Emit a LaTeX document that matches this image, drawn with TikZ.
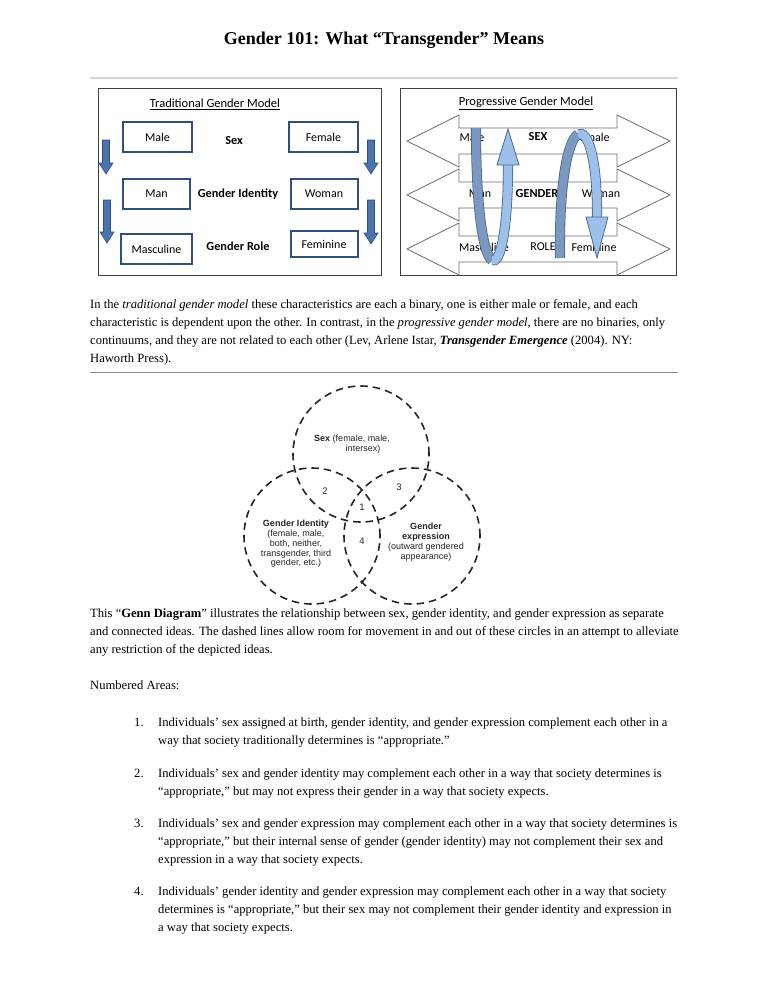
\documentclass[tikz,border=0pt]{standalone}
\usepackage{fontspec}
\setmainfont{Liberation Serif}
\newfontfamily\calfont{Carlito}
\newfontfamily\arialfont{Liberation Sans}
\definecolor{navy}{HTML}{2E4F7F}
\definecolor{arrowblue}{HTML}{4A74AE}
\definecolor{arrowedge}{HTML}{2F4F7F}
\definecolor{ribdark}{HTML}{7B98BE}
\definecolor{riblight}{HTML}{9CC0E8}
\definecolor{ribedge}{HTML}{4A6890}
\definecolor{rulegray}{HTML}{D4D4D4}
\definecolor{blockedge}{HTML}{6E6E6E}
\newcommand\dnarr[3]{\filldraw[fill=arrowblue,draw=arrowedge,line width=0.6] ({#1-3.5},#2) -- ({#1+3.5},#2) -- ({#1+3.5},{#3-11}) -- ({#1+7},{#3-11}) -- (#1,#3) -- ({#1-7},{#3-11}) -- ({#1-3.5},{#3-11}) -- cycle;}
\newcommand\dblarr[1]{\filldraw[fill=white,draw=blockedge,line width=0.8] (407,#1) -- (459,{#1-26}) -- (459,{#1-13}) -- (617,{#1-13}) -- (617,{#1-26}) -- (670,#1) -- (617,{#1+26}) -- (617,{#1+13}) -- (459,{#1+13}) -- (459,{#1+26}) -- cycle;}
\begin{document}
\begin{tikzpicture}[x=1pt,y=-1pt,
  body/.style={font=\fontsize{12.6}{15}\selectfont, inner sep=0pt, anchor=base west, text=black},
  tbox/.style={draw=navy, line width=2, minimum width=69, minimum height=30, inner sep=0pt, font=\calfont\fontsize{12}{14}\selectfont},
  tlab/.style={font=\calfont\bfseries\fontsize{12.3}{14}\selectfont, inner sep=0pt},
  plab/.style={font=\calfont\fontsize{12}{14}\selectfont, inner sep=0pt},
  ttl/.style={font=\calfont\fontsize{12.5}{14}\selectfont, inner sep=0pt},
  venn/.style={draw=black!85, line width=1.6, dash pattern=on 7.5pt off 5pt, circle, minimum size=136, inner sep=0pt},
  vtxt/.style={font=\arialfont\fontsize{9}{9.8}\selectfont, text=black!85, inner sep=0pt},
  rib/.style={draw=ribedge, line width=0.8, double distance=8.5}]
\useasboundingbox (0,0) rectangle (768,994);
\fill[white] (0,0) rectangle (768,994);
% title
\node[font=\bfseries\fontsize{18}{20}\selectfont, inner sep=0pt] (title) at (384,40) {Gender 101: What “Transgender” Means};
\draw[rulegray, line width=1.5] (90,78) -- (678,78);
% traditional model
\draw[black!75, line width=1] (98,88) rectangle (381,275);
\node[ttl] (ttitle) at (215,104) {\underline{Traditional Gender Model}};
\node[tbox] (male) at (157.5,137) {Male};
\node[tbox] (female) at (323.5,137) {Female};
\node[tbox, minimum width=67] (man) at (156.5,194) {Man};
\node[tbox, minimum width=67] (woman) at (324,194) {Woman};
\node[tbox, minimum width=71] (masc) at (156.5,249) {Masculine};
\node[tbox, minimum width=67, minimum height=26] (fem) at (324,244) {Feminine};
\node[tlab] (sexl) at (234,141) {Sex};
\node[tlab] (gidl) at (238,194) {Gender Identity};
\node[tlab] (grl) at (238,246) {Gender Role};
\dnarr{106}{140}{174}
\dnarr{107}{200}{243}
\dnarr{371}{140}{174}
\dnarr{371}{200}{244}
% progressive model
\draw[black!75, line width=1] (400,88) rectangle (676,275);
\node[ttl] (ptitle) at (526,103) {\underline{Progressive Gender Model}};
\dblarr{141}
\dblarr{195}
\dblarr{249}
\node[plab] (pmale) at (472,137) {Male};
\node[tlab] (psex) at (538,137) {SEX};
\node[plab] (pfemale) at (592,137) {Female};
\node[plab] (pman) at (480,194) {Man};
\node[tlab] (pgender) at (537,194) {GENDER};
\node[plab] (pwoman) at (601,194) {Woman};
\node[plab] (pmasc) at (484,247) {Masculine};
\node[plab] (prole) at (543,247) {ROLE};
\node[plab] (pfem) at (594,247) {Feminine};
% ribbons
\draw[rib, double=ribdark] (476,128) .. controls (476,213) and (484,255.5) .. (492,260.1);
\draw[rib, double=riblight] (492,260.1) .. controls (500,264.75) and (508,231.5) .. (508,165);
\filldraw[fill=riblight, draw=ribedge, line width=0.8] (497,165) -- (519,165) -- (508,129) -- cycle;
\draw[rib, double=ribdark] (560,258) .. controls (559,179) and (568.5,139.5) .. (578.1,134.4);
\draw[rib, double=riblight] (578.1,134.4) .. controls (587.75,129.25) and (597.5,158.5) .. (597,217);
\filldraw[fill=riblight, draw=ribedge, line width=0.8] (586,217) -- (608,217) -- (597,258) -- cycle;
% paragraph 1
\node[body] (p1a) at (90,308) {In the \textit{traditional gender model} these characteristics are each a binary, one is either male or female, and each};
\node[body] (p1b) at (90,326) {characteristic is dependent upon the other. In contrast, in the \textit{progressive gender model}, there are no binaries, only};
\node[body] (p1c) at (90,344) {continuums, and they are not related to each other (Lev, Arlene Istar, \textbf{\textit{Transgender Emergence}} (2004). NY:};
\node[body] (p1d) at (90,362) {Haworth Press).};
\draw[black!45, line width=0.8] (90,372) -- (678,372);
% venn
\node[venn] (csex) at (361,454) {};
\node[venn] (cgid) at (312,536) {};
\node[venn] (cgex) at (412,536) {};
\node[vtxt] (sx1) at (352,439) {\textbf{Sex} (female, male,};
\node[vtxt] (sx2) at (363,449) {intersex)};
\node[vtxt, font=\arialfont\fontsize{9.5}{10}\selectfont] (n2) at (325,491) {2};
\node[vtxt, font=\arialfont\fontsize{9.5}{10}\selectfont] (n3) at (399,487) {3};
\node[vtxt, font=\arialfont\fontsize{9.5}{10}\selectfont] (n1) at (362,507) {1};
\node[vtxt, font=\arialfont\fontsize{9.5}{10}\selectfont] (n4) at (362,541) {4};
\node[vtxt, align=center] (gid) at (296,544) {\textbf{Gender Identity}\\(female, male,\\both, neither,\\transgender, third\\gender, etc.)};
\node[vtxt, align=center] (gex) at (426,542) {\textbf{Gender}\\\textbf{expression}\\(outward gendered\\appearance)};
% paragraph 2
\node[body] (p2a) at (90,617) {This “\textbf{Genn Diagram}” illustrates the relationship between sex, gender identity, and gender expression as separate};
\node[body] (p2b) at (90,635) {and connected ideas. The dashed lines allow room for movement in and out of these circles in an attempt to alleviate};
\node[body] (p2c) at (90,653) {any restriction of the depicted ideas.};
\node[body] (na) at (90,689) {Numbered Areas:};
% items
\node[body] (i1n) at (134,726) {1.};
\node[body] (i1a) at (158,726) {Individuals’ sex assigned at birth, gender identity, and gender expression complement each other in a};
\node[body] (i1b) at (158,744) {way that society traditionally determines is “appropriate.”};
\node[body] (i2n) at (134,777) {2.};
\node[body] (i2a) at (158,777) {Individuals’ sex and gender identity may complement each other in a way that society determines is};
\node[body] (i2b) at (158,795) {“appropriate,” but may not express their gender in a way that society expects.};
\node[body] (i3n) at (134,827) {3.};
\node[body] (i3a) at (158,827) {Individuals’ sex and gender expression may complement each other in a way that society determines is};
\node[body] (i3b) at (158,845) {“appropriate,” but their internal sense of gender (gender identity) may not complement their sex and};
\node[body] (i3c) at (158,863) {expression in a way that society expects.};
\node[body] (i4n) at (134,895) {4.};
\node[body] (i4a) at (158,895) {Individuals’ gender identity and gender expression may complement each other in a way that society};
\node[body] (i4b) at (158,913) {determines is “appropriate,” but their sex may not complement their gender identity and expression in};
\node[body] (i4c) at (158,931) {a way that society expects.};
\end{tikzpicture}
\end{document}
